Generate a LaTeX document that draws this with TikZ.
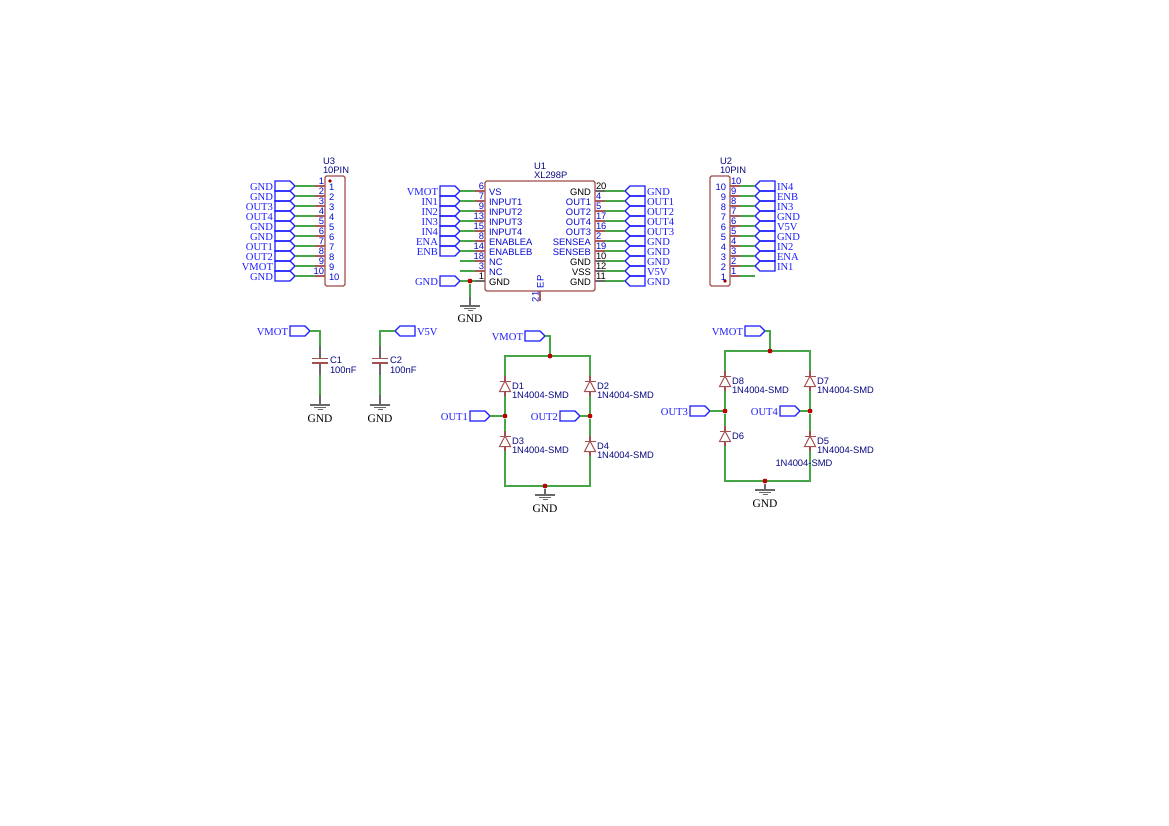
\documentclass[tikz,border=0pt]{standalone}
\usepackage{fontspec}
\setmainfont{Liberation Serif}
\newfontfamily\pinfont{Liberation Sans}
\definecolor{wirec}{RGB}{70,165,70}
\definecolor{pinc}{RGB}{170,90,90}
\definecolor{boxc}{RGB}{165,80,80}
\definecolor{portc}{RGB}{30,30,255}
\definecolor{numc}{RGB}{10,10,210}
\definecolor{refc}{RGB}{10,10,132}
\definecolor{gndc}{RGB}{105,105,105}
\definecolor{juncc}{RGB}{190,0,0}
\tikzset{
  txt/.style={inner sep=0pt,outer sep=0pt},
  ptxt/.style={txt,font=\fontsize{10.6}{11}\selectfont,text=portc},
  gtxt/.style={txt,font=\fontsize{11.5}{12}\selectfont,text=black},
  stxt/.style={txt,font=\pinfont\fontsize{9.4}{10}\selectfont},
  wire/.style={draw=wirec,line width=1.4pt},
  pinl/.style={draw=pinc,line width=1.4pt},
  gpin/.style={draw=gndc,line width=1.4pt},
  comp/.style={draw=boxc,line width=1.3pt},
  portb/.style={draw=portc,line width=1.25pt,line join=miter},
  junc/.style={circle,fill=juncc,inner sep=0pt,minimum size=4.6pt},
}
% port pointing right: left end x, tip x+20
\newcommand{\pR}[4]{%
  \coordinate (#1) at (#2+20,#3);
  \draw[portb] (#2,#3-5) -- (#2+15,#3-5) -- (#2+20,#3) -- (#2+15,#3+5) -- (#2,#3+5) -- cycle;
  \node[ptxt,anchor=base east] (#1t) at (#2-2,#3+4.2) {#4};}
% port pointing left: tip x, right end x+20
\newcommand{\pL}[4]{%
  \coordinate (#1) at (#2,#3);
  \draw[portb] (#2+20,#3-5) -- (#2+5,#3-5) -- (#2,#3) -- (#2+5,#3+5) -- (#2+20,#3+5) -- cycle;
  \node[ptxt,anchor=base west] (#1t) at (#2+22,#3+4.2) {#4};}
% ground symbol
\newcommand{\gnd}[4]{%
  \coordinate (#1) at (#2,#3);
  \draw[gndc,line width=1.4pt] (#2-10,#3) -- (#2+10,#3);
  \draw[gndc,line width=1.1pt] (#2-6,#3+2.5) -- (#2+6,#3+2.5) (#2-2.5,#3+4.6) -- (#2+2.5,#3+4.6);
  \node[gtxt,anchor=base] (#1t) at (#2,#3+#4) {GND};}
% diode x, top y (bar), name
\newcommand{\diode}[3]{%
  \coordinate (#1a) at (#2,#3-5);
  \coordinate (#1b) at (#2,#3+15);
  \draw[comp] (#2,#3-5) -- (#2,#3);
  \draw[comp] (#2,#3+10.5) -- (#2,#3+15);
  \draw[comp,line width=1pt] (#2-5.5,#3) -- (#2+5.5,#3);
  \draw[comp,line width=1pt,line join=miter] (#2,#3) -- (#2+5.5,#3+10.5) -- (#2-5.5,#3+10.5) -- cycle;}
\newcommand{\lab}[4]{\node[stxt,text=refc,anchor=base west] (#1) at (#2,#3) {#4};}
\newcommand{\capa}[2]{%
  \coordinate (#1a) at (#2,346);
  \coordinate (#1b) at (#2,375);
  \draw[gpin] (#2,346) -- (#2,358) (#2,363) -- (#2,375);
  \draw[comp] (#2-8,358.5) -- (#2+8,358.5) (#2-8,363) -- (#2+8,363);}
% left pin of a component
\newcommand{\pinW}[6]{%
  \draw[#6] (#1-10,#2) -- (#1,#2);
  \node[stxt,text=#5,anchor=base east] (n#3a) at (#1-1,#2-1.3) {#3};
  \node[stxt,text=#5,anchor=base west] (n#3b) at (#1+4,#2+4.1) {#4};}
% right pin
\newcommand{\pinE}[6]{%
  \draw[#6] (#1,#2) -- (#1+10,#2);
  \node[stxt,text=#5,anchor=base west] (n#3a) at (#1+1,#2-1.3) {#3};
  \node[stxt,text=#5,anchor=base east] (n#3b) at (#1-4,#2+4.1) {#4};}
\begin{document}
\begin{tikzpicture}[x=1pt,y=-1pt]
\useasboundingbox[fill=white] (0,0) rectangle (1169,826);

%%% U3
\node[stxt,text=refc,anchor=base west] (u3r) at (323,164.7) {U3};
\node[stxt,text=refc,anchor=base west] (u3v) at (323,173.7) {10PIN};
\draw[comp,rounded corners=1.5pt] (325,176) rectangle (345,286);
\node[circle,fill=juncc!80!black,inner sep=0pt,minimum size=3.8pt] (u3d) at (330,181) {};
\foreach \yy/\nn/\pp in {186/1/GND,196/2/GND,206/3/OUT3,216/4/OUT4,226/5/GND,236/6/GND,246/7/OUT1,256/8/OUT2,266/9/VMOT,276/10/GND}{
  \pinW{325}{\yy}{\nn}{\nn}{numc}{pinl}
  \pR{u3p\nn}{275}{\yy}{\pp}
  \coordinate (u3e\nn) at (315,\yy);
  \draw[wire] (u3p\nn) -- (u3e\nn);
}

%%% U1
\node[stxt,text=refc,anchor=base west] (u1r) at (534,169.7) {U1};
\node[stxt,text=refc,anchor=base west] (u1v) at (534,178.7) {XL298P};
\draw[comp,rounded corners=1.5pt] (485,181) rectangle (595,291);
\foreach \yy/\nn/\mm/\pp in {191/6/VS/VMOT,201/7/INPUT1/IN1,211/9/INPUT2/IN2,221/13/INPUT3/IN3,231/15/INPUT4/IN4,241/8/ENABLEA/ENA,251/14/ENABLEB/ENB}{
  \pinW{485}{\yy}{\nn}{\mm}{numc}{pinl}
  \pR{u1p\nn}{440}{\yy}{\pp}
  \coordinate (u1e\nn) at (475,\yy);
  \draw[wire] (u1p\nn) -- (u1e\nn);
}
\foreach \yy/\nn in {261/18,271/3}{
  \pinW{485}{\yy}{\nn}{NC}{numc}{pinl}
  \coordinate (u1f\nn) at (460,\yy);
  \coordinate (u1e\nn) at (475,\yy);
  \draw[wire] (u1f\nn) -- (u1e\nn);
}
\pinW{485}{281}{1}{GND}{black}{gpin}
\pR{u1p1}{440}{281}{GND}
\coordinate (u1e1) at (475,281);
\draw[wire] (u1p1) -- (u1e1);
\node[junc] (u1j) at (470,281) {};
\gnd{u1g}{470}{306}{16}
\coordinate (u1k) at (470,297);
\draw[wire] (u1j) -- (u1k);
\draw[gpin] (u1k) -- (u1g);
\fill[juncc] (u1j) circle (2.3pt);
% exposed pad
\draw[pinl] (540,291) -- (540,301);
\node[stxt,text=numc,rotate=90,anchor=base west] (u1ep) at (543.5,288) {EP};
\node[stxt,text=numc,rotate=90,anchor=base west] (u1n21) at (538.7,302) {21};
% right pins
\foreach \yy/\nn/\mm/\pp/\cc/\ss in {191/20/GND/GND/black/gpin,201/4/OUT1/OUT1/numc/pinl,211/5/OUT2/OUT2/numc/pinl,221/17/OUT4/OUT4/numc/pinl,231/16/OUT3/OUT3/numc/pinl,241/2/SENSEA/GND/numc/pinl,251/19/SENSEB/GND/numc/pinl,261/10/GND/GND/black/gpin,271/12/VSS/V5V/black/gpin,281/11/GND/GND/black/gpin}{
  \pinE{595}{\yy}{\nn}{\mm}{\cc}{\ss}
  \pL{u1q\nn}{625}{\yy}{\pp}
  \coordinate (u1s\nn) at (605,\yy);
  \draw[wire] (u1s\nn) -- (u1q\nn);
}

%%% U2
\node[stxt,text=refc,anchor=base west] (u2r) at (720,164.7) {U2};
\node[stxt,text=refc,anchor=base west] (u2v) at (720,173.7) {10PIN};
\draw[comp,rounded corners=1.5pt] (710,176) rectangle (730,286);
\node[circle,fill=juncc!80!black,inner sep=0pt,minimum size=3.8pt] (u2d) at (725,281) {};
\foreach \yy/\nn/\pp in {186/10/IN4,196/9/ENB,206/8/IN3,216/7/GND,226/6/V5V,236/5/GND,246/4/IN2,256/3/ENA,266/2/IN1}{
  \pinE{730}{\yy}{\nn}{\nn}{numc}{pinl}
  \pL{u2p\nn}{755}{\yy}{\pp}
  \coordinate (u2e\nn) at (740,\yy);
  \draw[wire] (u2e\nn) -- (u2p\nn);
}
\pinE{730}{276}{1}{1}{numc}{pinl}
\coordinate (u2e1) at (740,276);
\coordinate (u2f1) at (755,276);
\draw[wire] (u2e1) -- (u2f1);

%%% C1
\pR{c1p}{290}{331}{VMOT}
\capa{c1}{320}
\draw[wire] (c1p) -| (c1a);
\coordinate (c1w) at (320,395);
\draw[wire] (c1b) -- (c1w);
\gnd{c1g}{320}{405}{17}
\draw[gpin] (c1w) -- (c1g);
\lab{c1r}{330}{363.5}{C1}
\lab{c1v}{330}{373.5}{100nF}
%%% C2
\pL{c2p}{395}{331}{V5V}
\capa{c2}{380}
\draw[wire] (c2p) -| (c2a);
\coordinate (c2w) at (380,395);
\draw[wire] (c2b) -- (c2w);
\gnd{c2g}{380}{405}{17}
\draw[gpin] (c2w) -- (c2g);
\lab{c2r}{390}{363.5}{C2}
\lab{c2v}{390}{373.5}{100nF}

%%% bridge 1
\coordinate (b1tl) at (505,356);
\coordinate (b1tr) at (590,356);
\coordinate (b1bl) at (505,486);
\coordinate (b1br) at (590,486);
\diode{d1}{505}{381}
\diode{d2}{590}{381}
\diode{d3}{505}{436}
\diode{d4}{590}{441}
\node[junc] (b1jt) at (550,356) {};
\node[junc] (b1jl) at (505,416) {};
\node[junc] (b1jr) at (590,416) {};
\node[junc] (b1jb) at (545,486) {};
\pR{b1v}{525}{336}{VMOT}
\pR{b1o1}{470}{416}{OUT1}
\pR{b1o2}{560}{416}{OUT2}
\draw[wire] (b1v) -| (b1jt);
\draw[wire,line join=miter] (d1a) -- (b1tl) -- (b1tr) -- (d2a);
\draw[wire] (d1b) -- (b1jl) -- (d3a);
\draw[wire] (d2b) -- (b1jr) -- (d4a);
\draw[wire,line join=miter] (d3b) -- (b1bl) -- (b1br) -- (d4b);
\draw[wire] (b1o1) -- (b1jl);
\draw[wire] (b1o2) -- (b1jr);
\gnd{b1g}{545}{495}{17}
\draw[gpin] (b1jb) -- (b1g);
\foreach \nn in {jt,jl,jr,jb}{\fill[juncc] (b1\nn) circle (2.3pt);}
\lab{d1r}{512}{389.5}{D1}\lab{d1v}{512}{398.5}{1N4004-SMD}
\lab{d2r}{597}{389.5}{D2}\lab{d2v}{597}{398.5}{1N4004-SMD}
\lab{d3r}{512}{444.5}{D3}\lab{d3v}{512}{453.5}{1N4004-SMD}
\lab{d4r}{597}{449.5}{D4}\lab{d4v}{597}{458.5}{1N4004-SMD}

%%% bridge 2
\coordinate (b2tl) at (725,351);
\coordinate (b2tr) at (810,351);
\coordinate (b2bl) at (725,481);
\coordinate (b2br) at (810,481);
\diode{d8}{725}{376}
\diode{d7}{810}{376}
\diode{d6}{725}{431}
\diode{d5}{810}{436}
\node[junc] (b2jt) at (770,351) {};
\node[junc] (b2jl) at (725,411) {};
\node[junc] (b2jr) at (810,411) {};
\node[junc] (b2jb) at (765,481) {};
\pR{b2v}{745}{331}{VMOT}
\pR{b2o3}{690}{411}{OUT3}
\pR{b2o4}{780}{411}{OUT4}
\draw[wire] (b2v) -| (b2jt);
\draw[wire,line join=miter] (d8a) -- (b2tl) -- (b2tr) -- (d7a);
\draw[wire] (d8b) -- (b2jl) -- (d6a);
\draw[wire] (d7b) -- (b2jr) -- (d5a);
\draw[wire,line join=miter] (d6b) -- (b2bl) -- (b2br) -- (d5b);
\draw[wire] (b2o3) -- (b2jl);
\draw[wire] (b2o4) -- (b2jr);
\gnd{b2g}{765}{490}{17}
\draw[gpin] (b2jb) -- (b2g);
\foreach \nn in {jt,jl,jr,jb}{\fill[juncc] (b2\nn) circle (2.3pt);}
\lab{d8r}{732}{384.5}{D8}\lab{d8v}{732}{393.5}{1N4004-SMD}
\lab{d7r}{817}{384.5}{D7}\lab{d7v}{817}{393.5}{1N4004-SMD}
\lab{d6r}{732}{439.5}{D6}
\lab{d5r}{817}{444.5}{D5}\lab{d5v}{817}{453.5}{1N4004-SMD}
\lab{d6v}{775.5}{466.5}{1N4004-SMD}
\end{tikzpicture}
\end{document}
